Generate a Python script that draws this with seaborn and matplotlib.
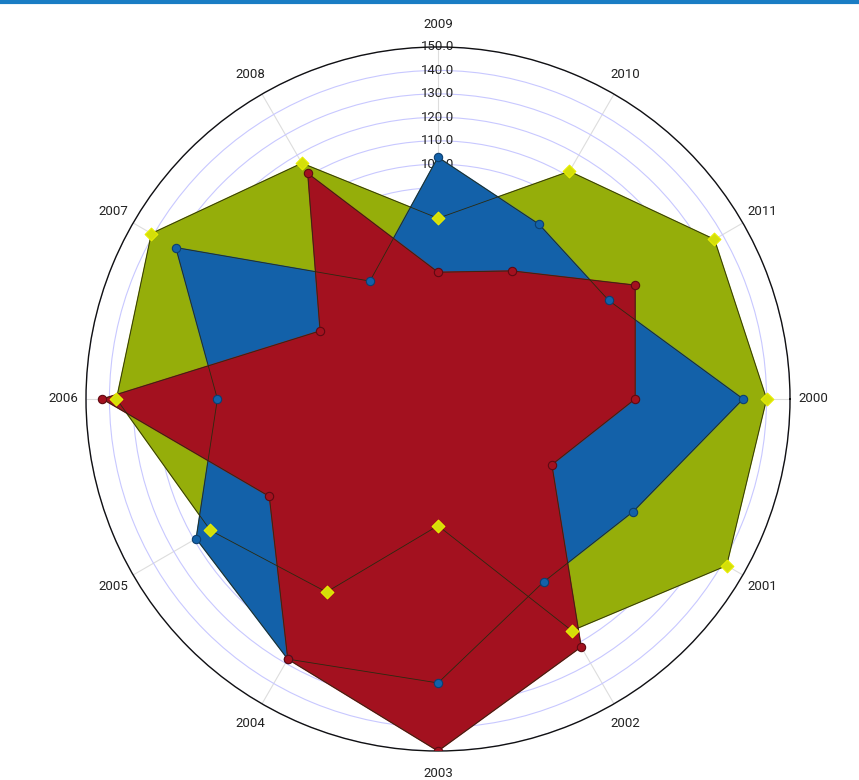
import numpy as np
import matplotlib
matplotlib.use("Agg")
import matplotlib.pyplot as plt
import seaborn as sns

years = ["2000", "2001", "2002", "2003", "2004", "2005",
         "2006", "2007", "2008", "2009", "2010", "2011"]
green_vals = [140, 142, 114, 54, 95, 112, 137, 141, 116, 77, 112, 136]
blue_vals = [130, 96, 90, 121, 128, 119, 94, 129, 58, 103, 86, 84]
red_vals = [84, 56, 122, 150, 128, 83, 143, 58, 111, 54, 63, 97]

sns.set_style("white")
plt.rcParams["font.family"] = ["Roboto", "DejaVu Sans"]

fig = plt.figure(figsize=(8.59, 7.8), dpi=100)
ax = fig.add_axes([0.1001, 0.0372, 0.8196, 0.9026], projection="polar")
ax.set_theta_zero_location("E")
ax.set_theta_direction(-1)

theta = np.deg2rad(np.arange(len(years)) * 30)
tc = np.append(theta, theta[0])

series = [
    (green_vals, "#95ae0a", "D", "#d4df0a", "#e8ee00", 7),
    (blue_vals, "#1361a9", "o", "#1361a9", "#0c3f70", 6),
    (red_vals, "#a3111f", "o", "#a3111f", "#5e0a12", 6),
]
for vals, col, *_ in series:
    v = np.append(vals, vals[0])
    ax.fill(tc, v, color=col, zorder=2)
    ax.plot(tc, v, color="#2a2a10", lw=0.6, zorder=3)
for vals, col, mk, fc, ec, ms in series:
    sns.scatterplot(x=theta, y=vals, ax=ax, marker=mk, color=fc,
                    edgecolor=ec, s=ms * 6, linewidth=0.8, zorder=5, legend=False)

ax.set_ylim(0, 150)
ax.set_yticks(np.arange(0, 151, 10))
ax.set_yticklabels([f"{v:.1f}" for v in np.arange(0, 151, 10)], fontsize=9.5,
                   color="#222222", ha="center", va="center")
ax.set_rlabel_position(270)
ax.set_xticks(theta)
ax.set_xticklabels(years, fontsize=9.5, color="#222222")
ax.tick_params(axis="x", pad=6)
ax.yaxis.grid(True, color="#c8c8ff", lw=0.8)
ax.xaxis.grid(True, color="#dddddd", lw=0.8)
ax.set_axisbelow(True)
for gl in ax.yaxis.get_gridlines() + ax.xaxis.get_gridlines():
    gl.set_zorder(1)
for t in ax.yaxis.get_ticklabels():
    t.set_zorder(6)
ax.spines["polar"].set_color("#111111")
ax.spines["polar"].set_linewidth(1)
ax.set_xlabel("")
ax.set_ylabel("")

fig.add_artist(plt.Line2D([0, 1], [0.998, 0.998], color="#1a7dc4", lw=3,
                          transform=fig.transFigure))
fig.savefig("out.png", dpi=100)
